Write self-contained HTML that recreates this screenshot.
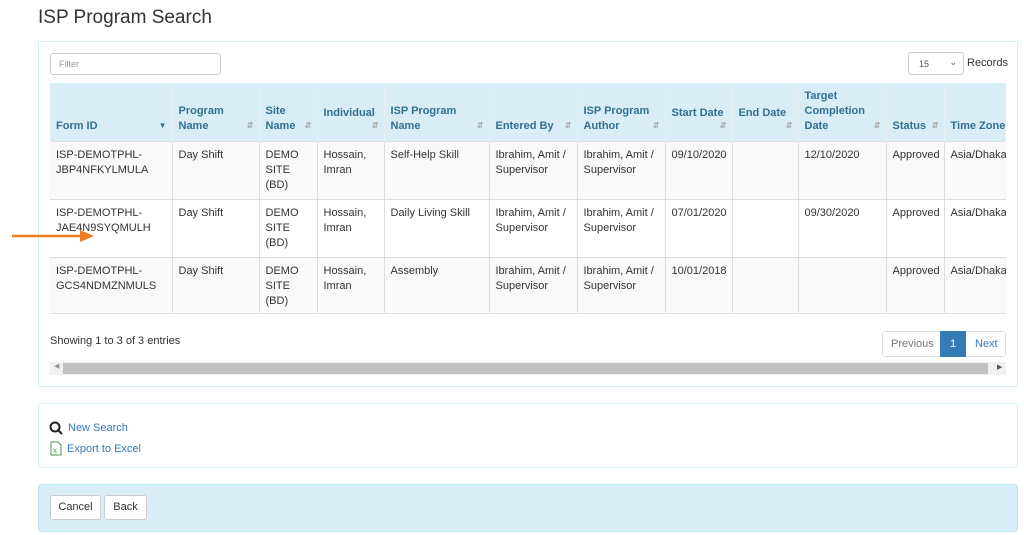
<!DOCTYPE html>
<html><head><meta charset="utf-8"><style>
*{box-sizing:border-box;margin:0;padding:0}
body{width:1024px;height:535px;background:#fff;font-family:"Liberation Sans",Arial,sans-serif;font-size:11px;color:#333;position:relative;overflow:hidden}
.a{position:absolute}
.panel{position:absolute;left:38px;width:980px;border:1px solid #d4eef6;border-radius:3px;background:#fff}
table{border-collapse:collapse;table-layout:fixed;position:absolute;left:50px;top:83px}
th{background:#d9edf7;color:#31708f;font-weight:bold;text-align:left;vertical-align:bottom;padding:6px 6px 7px;line-height:15px;border-right:1px solid #e6eef2;position:relative;height:57px;white-space:nowrap}
th.m{padding-bottom:20px}
td{vertical-align:top;padding:6px 6px;line-height:15px;border-right:1px solid #ddd;border-top:1px solid #ddd;height:58px;white-space:nowrap}
tr.g td{background:#f9f9f9}
.s{position:absolute;right:5px;bottom:8px;color:#aaa;font-size:8px}
a{color:#337ab7;text-decoration:none}
.btn{position:absolute;top:495px;height:25px;border:1px solid #ccc;border-radius:3px;background:#fff;line-height:23px;text-align:center;font-size:11px}
</style></head><body>
<div class="a" style="left:38px;top:7px;font-size:19px;color:#333">ISP Program Search</div>
<div class="panel" style="top:41px;height:346px"></div>
<div class="a" style="left:50px;top:53px;width:171px;height:22px;border:1px solid #ccc;border-radius:3px;color:#999;font-size:9px;padding:5px 8px">Filter</div>
<div class="a" style="left:908px;top:52px;width:56px;height:23px;border:1px solid #ccc;border-radius:3px;font-size:9px;padding:6px 10px;color:#555">15<span style="position:absolute;right:6px;top:4px;font-size:9px">&#8964;</span></div>
<div class="a" style="left:967px;top:57px">Records</div>
<div class="a" style="left:50px;top:83px;width:956px;height:231px;overflow:hidden">
<table style="left:0;top:0;width:956px">
<colgroup><col style="width:122px"><col style="width:87px"><col style="width:58px"><col style="width:67px"><col style="width:105px"><col style="width:88px"><col style="width:88px"><col style="width:67px"><col style="width:66px"><col style="width:88px"><col style="width:58px"><col style="width:62px"></colgroup>
<tr><th>Form ID<span class="s" style="color:#31708f">&#9660;</span></th><th>Program<br>Name<span class="s">&#8693;</span></th><th>Site<br>Name<span class="s">&#8693;</span></th><th class="m">Individual<span class="s">&#8693;</span></th><th>ISP Program<br>Name<span class="s">&#8693;</span></th><th>Entered By<span class="s">&#8693;</span></th><th>ISP Program<br>Author<span class="s">&#8693;</span></th><th class="m">Start Date<span class="s">&#8693;</span></th><th class="m">End Date<span class="s">&#8693;</span></th><th>Target<br>Completion<br>Date<span class="s">&#8693;</span></th><th>Status<span class="s">&#8693;</span></th><th>Time Zone</th></tr>
<tr class="g"><td>ISP-DEMOTPHL-<br>JBP4NFKYLMULA</td><td>Day Shift</td><td>DEMO<br>SITE<br>(BD)</td><td>Hossain,<br>Imran</td><td>Self-Help Skill</td><td>Ibrahim, Amit /<br>Supervisor</td><td>Ibrahim, Amit /<br>Supervisor</td><td>09/10/2020</td><td></td><td>12/10/2020</td><td>Approved</td><td>Asia/Dhaka</td></tr>
<tr><td>ISP-DEMOTPHL-<br>JAE4N9SYQMULH</td><td>Day Shift</td><td>DEMO<br>SITE<br>(BD)</td><td>Hossain,<br>Imran</td><td>Daily Living Skill</td><td>Ibrahim, Amit /<br>Supervisor</td><td>Ibrahim, Amit /<br>Supervisor</td><td>07/01/2020</td><td></td><td>09/30/2020</td><td>Approved</td><td>Asia/Dhaka</td></tr>
<tr class="g"><td>ISP-DEMOTPHL-<br>GCS4NDMZNMULS</td><td>Day Shift</td><td>DEMO<br>SITE<br>(BD)</td><td>Hossain,<br>Imran</td><td>Assembly</td><td>Ibrahim, Amit /<br>Supervisor</td><td>Ibrahim, Amit /<br>Supervisor</td><td>10/01/2018</td><td></td><td></td><td>Approved</td><td>Asia/Dhaka</td></tr>
</table></div>
<div class="a" style="left:50px;top:313px;width:956px;border-top:1px solid #ddd"></div>
<svg class="a" style="left:10px;top:229px" width="86" height="14"><line x1="2" y1="7" x2="72" y2="7" stroke="#f07c22" stroke-width="2.5"/><polygon points="70,1 84,7 70,13" fill="#f07c22"/></svg>
<div class="a" style="left:50px;top:335px">Showing 1 to 3 of 3 entries</div>
<div class="a" style="left:882px;top:331px;width:124px;height:26px;border:1px solid #ddd;border-radius:3px"></div>
<div class="a" style="left:891px;top:338px;color:#777">Previous</div>
<div class="a" style="left:940px;top:331px;width:26px;height:26px;background:#337ab7;color:#fff;text-align:center;line-height:26px">1</div>
<div class="a" style="left:975px;top:338px;color:#337ab7">Next</div>
<div class="a" style="left:50px;top:362px;width:956px;height:13px;background:#f1f1f1"></div>
<div class="a" style="left:63px;top:363px;width:925px;height:11px;background:#c1c1c1"></div>
<div class="a" style="left:54px;top:362px;font-size:7px;color:#999">&#9664;</div>
<div class="a" style="left:997px;top:363px;font-size:7px;color:#555">&#9654;</div>
<div class="panel" style="top:403px;height:65px"></div>
<svg class="a" style="left:49px;top:421px" width="14" height="14"><circle cx="6" cy="6" r="4.5" fill="none" stroke="#222" stroke-width="2"/><line x1="9" y1="9" x2="13" y2="13" stroke="#222" stroke-width="2"/></svg>
<div class="a" style="left:68px;top:422px"><a>New Search</a></div>
<svg class="a" style="left:50px;top:441px" width="12" height="15"><path d="M1 1H8L11 4V14H1Z" fill="#fff" stroke="#4a9a4a"/><text x="3" y="12" font-size="8" fill="#4a9a4a" font-family="Liberation Sans">x</text></svg>
<div class="a" style="left:67px;top:443px"><a>Export to Excel</a></div>
<div class="panel" style="top:484px;height:48px;background:#d9edf7;border-color:#bce8f1"></div>
<div class="btn" style="left:50px;width:51px">Cancel</div>
<div class="btn" style="left:104px;width:43px">Back</div>
</body></html>
